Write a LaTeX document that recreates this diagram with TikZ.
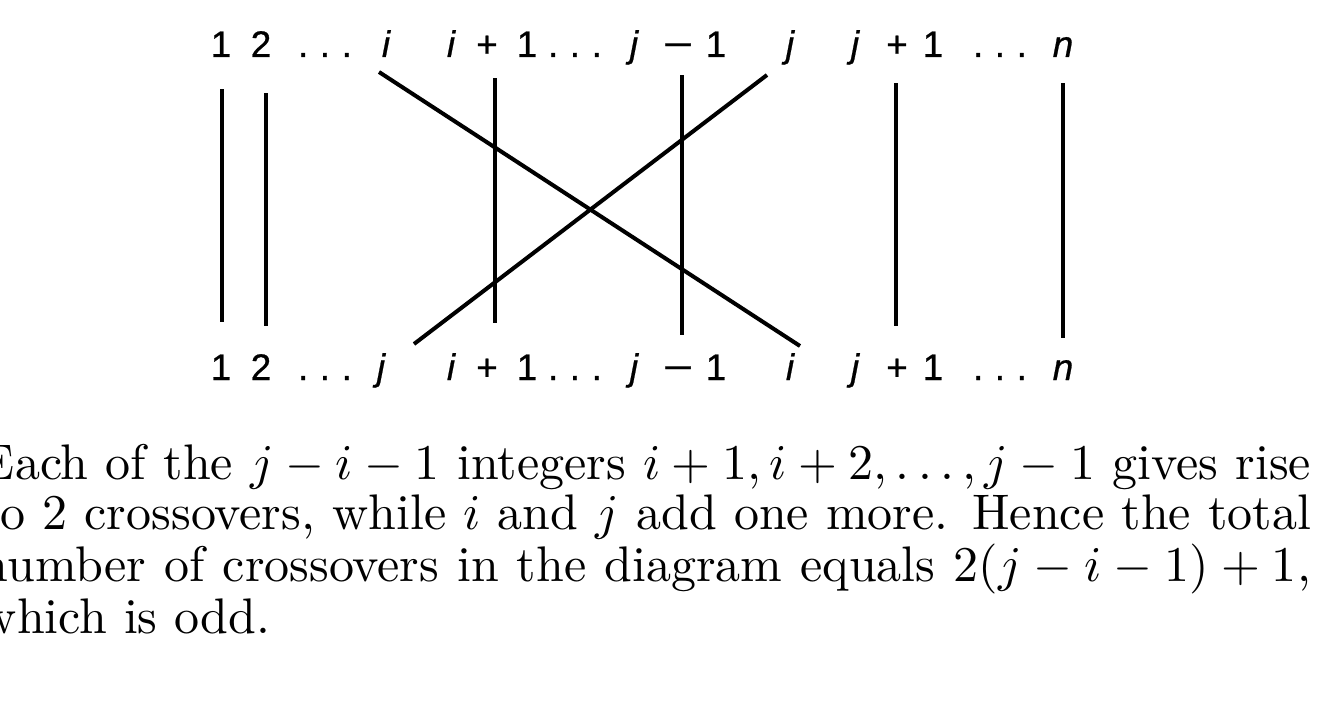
\documentclass[tikz,border=0pt]{standalone}
\usepackage{fontspec}
\newfontfamily\labfont[FakeBold=0.6]{Liberation Sans}
\newcommand{\labdots}{.\hspace{2.3pt}.\hspace{2.3pt}.}
\begin{document}
\begin{tikzpicture}[x=0.2pt,y=-0.2pt,
  lbl/.style={font=\labfont\fontsize{7.4}{8}\selectfont, anchor=base, inner sep=0pt},
  strand/.style={line width=0.8pt, black}]
\useasboundingbox (0,0) rectangle (1321,720);
\fill[white] (0,0) rectangle (1321,720);
\clip (0,0) rectangle (1321,720);

% top labels
\node[lbl] (t1)  at (221,57) {1};
\node[lbl] (t2)  at (261,57) {2};
\node[lbl] (t3)  at (325,57) {\labdots};
\node[lbl] (t4)  at (386,57) {\itshape i};
\node[lbl] (t5)  at (451,57) {\itshape i};
\node[lbl] (t6)  at (487,57) {+};
\node[lbl] (t7)  at (527,57) {1};
\node[lbl] (t8)  at (575,57) {\labdots};
\node[lbl] (t9)  at (634,57) {\itshape j};
\node[lbl] (t10) at (678,57) {\scalebox{1.4}[1]{−}};
\node[lbl] (t11) at (716,57) {1};
\node[lbl] (t12) at (790,57) {\itshape j};
\node[lbl] (t13) at (855,57) {\itshape j};
\node[lbl] (t14) at (897,57) {+};
\node[lbl] (t15) at (933,57) {1};
\node[lbl] (t16) at (1000,57) {\labdots};
\node[lbl] (t17) at (1063,57) {\itshape n};

% bottom labels
\node[lbl] (b1)  at (221,380) {1};
\node[lbl] (b2)  at (261,380) {2};
\node[lbl] (b3)  at (325,380) {\labdots};
\node[lbl] (b4)  at (381,380) {\itshape j};
\node[lbl] (b5)  at (451,380) {\itshape i};
\node[lbl] (b6)  at (487,380) {+};
\node[lbl] (b7)  at (527,380) {1};
\node[lbl] (b8)  at (575,380) {\labdots};
\node[lbl] (b9)  at (634,380) {\itshape j};
\node[lbl] (b10) at (678,380) {\scalebox{1.4}[1]{−}};
\node[lbl] (b11) at (716,380) {1};
\node[lbl] (b12) at (790,380) {\itshape i};
\node[lbl] (b13) at (855,380) {\itshape j};
\node[lbl] (b14) at (897,380) {+};
\node[lbl] (b15) at (933,380) {1};
\node[lbl] (b16) at (1000,380) {\labdots};
\node[lbl] (b17) at (1063,380) {\itshape n};

% strand end points
\coordinate (u1) at (222,89);   \coordinate (d1) at (222,322);
\coordinate (u2) at (266,93);   \coordinate (d2) at (266,326);
\coordinate (u3) at (379,72);   \coordinate (d3) at (800,346);
\coordinate (u4) at (495,78);   \coordinate (d4) at (495,323);
\coordinate (u5) at (682,75);   \coordinate (d5) at (682,335);
\coordinate (u6) at (767,75);   \coordinate (d6) at (414,344);
\coordinate (u7) at (896,83);   \coordinate (d7) at (896,326);
\coordinate (u8) at (1063,83);  \coordinate (d8) at (1063,338);

\draw[strand] (u1) -- (d1);
\draw[strand] (u2) -- (d2);
\draw[strand] (u3) -- (d3);
\draw[strand] (u4) -- (d4);
\draw[strand] (u5) -- (d5);
\draw[strand] (u6) -- (d6);
\draw[strand] (u7) -- (d7);
\draw[strand] (u8) -- (d8);

% body text
\node[anchor=base west, inner sep=0pt] (body) at (-20,479) {\parbox[t]{266pt}{\fontsize{10}{8.95}\selectfont
Each of the $j-i-1$ integers $i+1,i+2,\ldots,j-1$ gives rise\linebreak
to 2 crossovers, while $i$ and $j$ add one more. Hence the total\linebreak
number of crossovers in the diagram equals $2(j-i-1)+1$,\linebreak
which is odd.}};
\end{tikzpicture}
\end{document}
